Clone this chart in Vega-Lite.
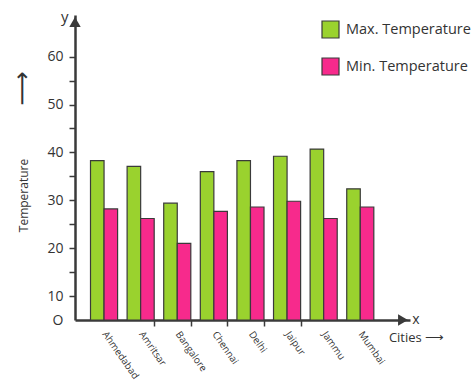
{
  "$schema": "https://vega.github.io/schema/vega-lite/v6.json",
  "width": 335,
  "height": 305,
  "autosize": "none",
  "padding": {"left": 75, "top": 15, "right": 64, "bottom": 68},
  "background": "white",
  "config": {"view": {"stroke": null}, "font": "Open Sans"},
  "title": {"text": "y", "anchor": "start", "frame": "group", "dx": -14, "dy": 10, "offset": 0, "fontSize": 15, "fontWeight": "normal", "color": "#333"},
  "data": {"values": [
    {"city": "Ahmedabad", "series": "Max. Temperature", "temp": 38.3},
    {"city": "Ahmedabad", "series": "Min. Temperature", "temp": 28.2},
    {"city": "Amritsar", "series": "Max. Temperature", "temp": 37.1},
    {"city": "Amritsar", "series": "Min. Temperature", "temp": 26.2},
    {"city": "Bangalore", "series": "Max. Temperature", "temp": 29.4},
    {"city": "Bangalore", "series": "Min. Temperature", "temp": 21.0},
    {"city": "Chennai", "series": "Max. Temperature", "temp": 36.0},
    {"city": "Chennai", "series": "Min. Temperature", "temp": 27.7},
    {"city": "Delhi", "series": "Max. Temperature", "temp": 38.3},
    {"city": "Delhi", "series": "Min. Temperature", "temp": 28.6},
    {"city": "Jaipur", "series": "Max. Temperature", "temp": 39.2},
    {"city": "Jaipur", "series": "Min. Temperature", "temp": 29.8},
    {"city": "Jammu", "series": "Max. Temperature", "temp": 40.7},
    {"city": "Jammu", "series": "Min. Temperature", "temp": 26.2},
    {"city": "Mumbai", "series": "Max. Temperature", "temp": 32.4},
    {"city": "Mumbai", "series": "Min. Temperature", "temp": 28.6}
  ]},
  "layer": [
    {
      "mark": {"type": "bar", "stroke": "#3a3a3a", "strokeWidth": 1.2},
      "encoding": {
        "x": {
          "field": "city", "type": "nominal", "sort": null,
          "scale": {"paddingInner": 0.26, "paddingOuter": 0.706, "align": 0.3},
          "axis": {
            "title": "Cities\u00a0⟶",
            "titleX": 341, "titleY": 17, "titleAlign": "center", "titleBaseline": "middle",
            "titleFontSize": 13, "titleFontWeight": "normal", "titleColor": "#333",
            "labelAngle": 55, "labelAlign": "left", "labelBaseline": "middle",
            "labelFontSize": 9.8, "labelColor": "#333", "labelPadding": 6,
            "domainColor": "#3a3a3a", "domainWidth": 2.5,
            "tickBand": "extent", "tickColor": "#3a3a3a", "tickWidth": 1.5, "tickSize": 6,
            "tickOpacity": {"condition": {"test": "indexof(['Amritsar','Bangalore','Chennai','Delhi','Jaipur'], datum.value) >= 0", "value": 1}, "value": 0}
          }
        },
        "xOffset": {"field": "series", "type": "nominal", "scale": {"paddingInner": 0, "paddingOuter": 0}},
        "y": {
          "field": "temp", "type": "quantitative",
          "scale": {"domain": [5, 68.7], "zero": false, "nice": false},
          "axis": {
            "title": "Temperature",
            "titleX": -52, "titleY": 180, "titleAlign": "center", "titleBaseline": "middle",
            "titleFontSize": 12, "titleFontWeight": "normal", "titleColor": "#333",
            "values": [5, 10, 15, 20, 25, 30, 35, 40, 45, 50, 55, 60],
            "tickCount": 12,
            "labelExpr": "datum.value == 5 ? 'O' : (datum.value % 10 == 0 ? datum.label : '')",
            "labelOverlap": false,
            "labelFontSize": 14, "labelColor": "#333", "labelPadding": 6,
            "domainColor": "#3a3a3a", "domainWidth": 2.5,
            "tickColor": "#3a3a3a", "tickWidth": 1.5, "tickSize": 6,
            "tickOpacity": {"condition": {"test": "datum.value == 5", "value": 0}, "value": 1},
            "encode": {"labels": {"update": {"dx": {"signal": "datum.value == 5 ? 9 : 0"}}}},
            "grid": false
          }
        },
        "y2": {"datum": 5},
        "color": {
          "field": "series", "type": "nominal",
          "scale": {"domain": ["Max. Temperature", "Min. Temperature"], "range": ["#9ad22e", "#f72a8c"]},
          "legend": {
            "title": null, "orient": "none", "legendX": 246, "legendY": 5,
            "symbolType": "square", "symbolSize": 289, "symbolStrokeColor": "#3a3a3a", "symbolStrokeWidth": 1.2,
            "symbolOpacity": 1, "labelFontSize": 14.5, "labelColor": "#333", "labelOffset": 6, "rowPadding": 14
          }
        }
      }
    },
    {
      "data": {"values": [{}]},
      "mark": {"type": "point", "shape": "triangle-up", "filled": true, "color": "#3a3a3a", "size": 130, "opacity": 1, "yOffset": 7},
      "encoding": {"x": {"value": 0}, "y": {"datum": 68.7}}
    },
    {
      "data": {"values": [{}]},
      "mark": {"type": "point", "shape": "triangle-right", "filled": true, "color": "#3a3a3a", "size": 130, "opacity": 1, "xOffset": -7},
      "encoding": {"x": {"value": 335}, "y": {"datum": 5}}
    },
    {
      "data": {"values": [{}]},
      "mark": {"type": "text", "text": "x", "fontSize": 14, "color": "#333", "align": "center", "baseline": "middle", "dx": 6},
      "encoding": {"x": {"value": 335}, "y": {"datum": 5}}
    },
    {
      "data": {"values": [{}]},
      "mark": {"type": "text", "text": "⟶", "font": "DejaVu Sans", "fontSize": 24, "angle": -90, "color": "#333", "align": "center", "baseline": "middle"},
      "encoding": {"x": {"value": -52}, "y": {"datum": 53.4}}
    }
  ]
}
